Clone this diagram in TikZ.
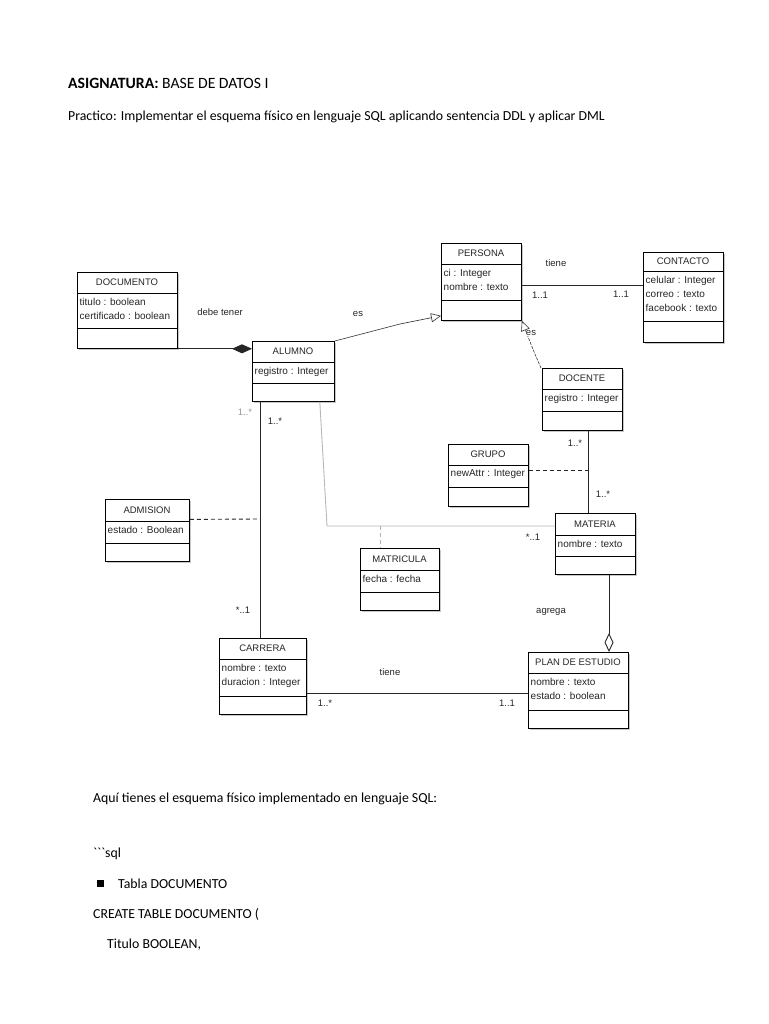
\documentclass[tikz,border=0pt]{standalone}
\usepackage{fontspec}
\setmainfont{Carlito}
\newfontfamily\docfont{Carlito}
\newfontfamily\umlfont{Liberation Sans}
\usetikzlibrary{arrows.meta,shadows,calc}
\newcommand\umlcls[9]{%
  \pgfmathsetmacro\clsW{#4-#2}%
  \pgfmathsetmacro\clsH{#7-#3}%
  \node[cls, minimum width=\clsW pt, minimum height=\clsH pt, anchor=north west] (#1) at (#2,#3) {};
  \draw[clsline] (#2,#5) -- (#4,#5);
  \draw[clsline] (#2,#6) -- (#4,#6);
  \node[clsname] (#1-t) at ({(#2+#4)/2},{(#3+#5)/2}) {#8};
  \node[clsattr, anchor=north west] (#1-a) at (#2,#5) {#9};
}
\begin{document}
\begin{tikzpicture}[x=1pt,y=-1pt,
  cls/.style={draw=black, line width=0.8pt, fill=white, inner sep=0pt,
    drop shadow={shadow xshift=1.3pt, shadow yshift=-1.3pt, fill=black!30, opacity=0.7}},
  clsline/.style={line width=0.8pt},
  clsname/.style={font=\umlfont\fontsize{9.5}{11}\selectfont, inner sep=0pt, text=black!85},
  clsattr/.style={font=\umlfont\fontsize{10}{14}\selectfont, align=left, inner xsep=2.5pt, inner ysep=4.8pt, text=black!85},
  lbl/.style={font=\umlfont\fontsize{9.5}{11}\selectfont, inner sep=0pt, text=black!85},
  glbl/.style={lbl, text=black!40},
  assoc/.style={line width=0.9pt, draw=black!85},
  gassoc/.style={line width=0.9pt, draw=black!28},
  dep/.style={line width=0.9pt, draw=black!85, dash pattern=on 4pt off 3pt},
  gdep/.style={line width=0.9pt, draw=black!30, dash pattern=on 4pt off 3pt},
  gen/.style={line width=0.6pt, draw=black!80, -{Triangle[open, length=10pt, width=9pt, fill=white]}},
  doctext/.style={font=\docfont\fontsize{13.8}{16}\selectfont, anchor=base west, inner sep=0pt}
]
\useasboundingbox (0,0) rectangle (768,1024);
\fill[white] (0,0) rectangle (768,1024);

% header text
\node[doctext, font=\docfont\fontsize{15.7}{19}\selectfont] (title) at (68,89) {\textbf{ASIGNATURA:} BASE DE DATOS I};
\node[doctext] (practico) at (68,121) {Practico: Implementar el esquema físico en lenguaje SQL aplicando sentencia DDL y aplicar DML};

% classes
\umlcls{PERSONA}{441}{243}{521}{264}{300}{320}{PERSONA}{ci : Integer\\nombre : texto}
\umlcls{CONTACTO}{643}{252}{723}{271}{321}{342}{CONTACTO}{celular : Integer\\correo : texto\\facebook : texto}
\umlcls{DOCUMENTO}{77}{272}{177}{293}{328}{348}{DOCUMENTO}{titulo : boolean\\certificado : boolean}
\umlcls{ALUMNO}{252}{341}{334}{362}{383}{401}{ALUMNO}{registro : Integer}
\umlcls{DOCENTE}{542}{368}{622}{389}{411}{430}{DOCENTE}{registro : Integer}
\umlcls{GRUPO}{448}{444}{528}{465}{487}{506}{GRUPO}{newAttr : Integer}
\umlcls{ADMISION}{105}{499}{189}{521}{543}{561}{ADMISION}{estado : Boolean}
\umlcls{MATERIA}{555}{513}{635}{535}{556}{574}{MATERIA}{nombre : texto}
\umlcls{MATRICULA}{360}{548}{439}{570}{592}{610}{MATRICULA}{fecha : fecha}
\umlcls{CARRERA}{219}{638}{306}{659}{696}{714}{CARRERA}{nombre : texto\\duracion : Integer}
\umlcls{PLAN}{528}{652}{628}{673}{710}{728}{PLAN DE ESTUDIO}{nombre : texto\\estado : boolean}

% free connector points
\coordinate (admk) at (260,519);
\coordinate (amk) at (327,526);
\coordinate (matk) at (380,526);
\coordinate (grpk) at (588,470);

% PERSONA -- CONTACTO
\draw[assoc] ([yshift=-3.5pt]PERSONA.east) -- ([yshift=-3.5pt]PERSONA.east -| CONTACTO.west);
\node[lbl] (l-tiene1) at (556,263) {tiene};
\node[lbl] (l-p11) at (540,295) {1..1};
\node[lbl] (l-c11) at (621,294) {1..1};

% DOCUMENTO -- ALUMNO composition
\draw[assoc, -{Diamond[length=20pt, width=9pt]}] (DOCUMENTO.south east) -- (DOCUMENTO.south east -| ALUMNO.west);
\node[lbl] (l-debe) at (220,312) {debe tener};

% generalizations
\draw[gen] (ALUMNO.north east) -- (400,324) -- ([yshift=5pt]PERSONA.south west);
\node[lbl] (l-es1) at (358,314) {es};
\draw[gen, dash pattern=on 3pt off 1.2pt] ([xshift=-1pt]DOCENTE.north west) .. controls (534,352) .. (PERSONA.south east);
\node[lbl, fill=white, inner sep=0.3pt] (l-es2) at (531,333) {es};

% ALUMNO -- CARRERA
\draw[assoc] ([xshift=8pt]ALUMNO.south west) -- ([xshift=8pt]ALUMNO.south west |- CARRERA.north);
\node[glbl] (l-a1) at (245,412) {1..*};
\node[lbl] (l-a2) at (275,421) {1..*};
\node[lbl] (l-c1) at (243,610) {*..1};

% ADMISION association class
\draw[dep] ([yshift=11pt]ADMISION.east) -- (admk);

% ALUMNO -- MATERIA
\draw[gassoc] ([xshift=-15pt]ALUMNO.south east) -- (amk) -- (amk -| MATERIA.west);
\node[lbl] (l-m1) at (533,537) {*..1};
\draw[gdep] (matk) -- (matk |- MATRICULA.north);

% DOCENTE -- MATERIA
\draw[assoc] ([xshift=46pt]DOCENTE.south west) -- ([xshift=46pt]DOCENTE.south west |- MATERIA.north);
\node[lbl] (l-d1) at (575,443) {1..*};
\node[lbl] (l-d2) at (603,494) {1..*};
\draw[dep] (GRUPO.east |- grpk) -- (grpk);

% MATERIA -- PLAN aggregation
\draw[assoc, -{Diamond[open, length=19pt, width=9pt, fill=white]}] ([xshift=54pt]MATERIA.south west) -- ([xshift=54pt]MATERIA.south west |- PLAN.north);
\node[lbl] (l-agrega) at (551,612) {agrega};

% CARRERA -- PLAN
\draw[assoc] ([yshift=-17pt]CARRERA.east) -- ([yshift=-17pt]CARRERA.east -| PLAN.west);
\node[lbl] (l-tiene2) at (390,672) {tiene};
\node[lbl] (l-cp1) at (325,703) {1..*};
\node[lbl] (l-cp2) at (507,703) {1..1};

% bottom text
\node[doctext] (aqui) at (93,802) {Aquí tienes el esquema físico implementado en lenguaje SQL:};
\node[doctext] (sql) at (93,857) {`{}`{}`sql};
\node[fill=black, minimum size=7pt, inner sep=0pt] (bullet) at (100,883) {};
\node[doctext] (tabla) at (118,888) {Tabla DOCUMENTO};
\node[doctext] (create) at (93,918) {CREATE TABLE DOCUMENTO (};
\node[doctext] (titulo) at (107,948) {Titulo BOOLEAN,};
\end{tikzpicture}
\end{document}
